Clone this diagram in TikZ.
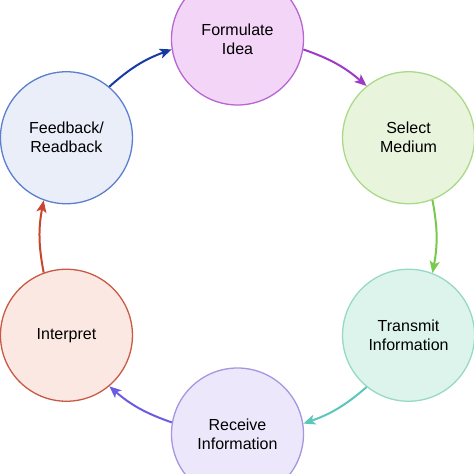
\documentclass[tikz,border=0pt]{standalone}
\usepackage{fontspec}
\setmainfont{Liberation Sans}
\usepackage{xcolor}
\definecolor{IDEAFILL}{HTML}{F3D5F7}
\definecolor{IDEALINE}{HTML}{B866D0}
\definecolor{IDEAARROW}{HTML}{9B3BC8}
\definecolor{MEDIUMFILL}{HTML}{E8F5DC}
\definecolor{MEDIUMLINE}{HTML}{A9D98B}
\definecolor{MEDIUMARROW}{HTML}{79C94E}
\definecolor{TRANSMITFILL}{HTML}{DDF4EC}
\definecolor{TRANSMITLINE}{HTML}{96D9C5}
\definecolor{TRANSMITARROW}{HTML}{5CC6BC}
\definecolor{RECEIVEFILL}{HTML}{EDE7FB}
\definecolor{RECEIVELINE}{HTML}{A497E0}
\definecolor{RECEIVEARROW}{HTML}{6B5BE3}
\definecolor{INTERPRETFILL}{HTML}{FBE8E2}
\definecolor{INTERPRETLINE}{HTML}{C85A44}
\definecolor{INTERPRETARROW}{HTML}{C8452E}
\definecolor{FEEDBACKFILL}{HTML}{EAEEF9}
\definecolor{FEEDBACKLINE}{HTML}{5B7FCB}
\definecolor{FEEDBACKARROW}{HTML}{1739A3}
\usetikzlibrary{arrows.meta}
\tikzset{
  phase-style/.style = {
    circle, draw=#1LINE, fill=#1FILL, line width=1.3pt,
    minimum size=132pt, inner sep=0pt,
    align=center, font=\fontsize{16}{19}\selectfont
  },
  flow-style/.style = {
    draw=#1ARROW, line width=2pt, bend left=10.8,
    -{Stealth[length=12pt,width=10pt,inset=3pt]}
  }
}

\begin{document}
\begin{tikzpicture}
    \useasboundingbox (-237.5pt,-237.5pt) rectangle (236.5pt,236.5pt);

    %%% phases round the cycle
    \node[phase-style=IDEA] (formulate) at (90:197.5pt) {Formulate\\Idea};
    \node[phase-style=MEDIUM] (select) at (30:197.5pt) {Select\\Medium};
    \node[phase-style=TRANSMIT] (transmit) at (-30:197.5pt) {Transmit\\Information};
    \node[phase-style=RECEIVE] (receive) at (-90:197.5pt) {Receive\\Information};
    \node[phase-style=INTERPRET] (interpret) at (-150:197.5pt) {Interpret};
    \node[phase-style=FEEDBACK] (feedback) at (150:197.5pt) {Feedback/\\Readback};

    %%% arrows (clockwise, along the big circle)
    \path (formulate.-9.6) edge[flow-style=IDEA] (select.129.6);
    \path (select.-69.6) edge[flow-style=MEDIUM] (transmit.69.6);
    \path (transmit.-129.6) edge[flow-style=TRANSMIT] (receive.9.6);
    \path (receive.170.4) edge[flow-style=RECEIVE] (interpret.-50.4);
    \path (interpret.110.4) edge[flow-style=INTERPRET] (feedback.-110.4);
    \path (feedback.50.4) edge[flow-style=FEEDBACK] (formulate.189.6);
\end{tikzpicture}
\end{document}
